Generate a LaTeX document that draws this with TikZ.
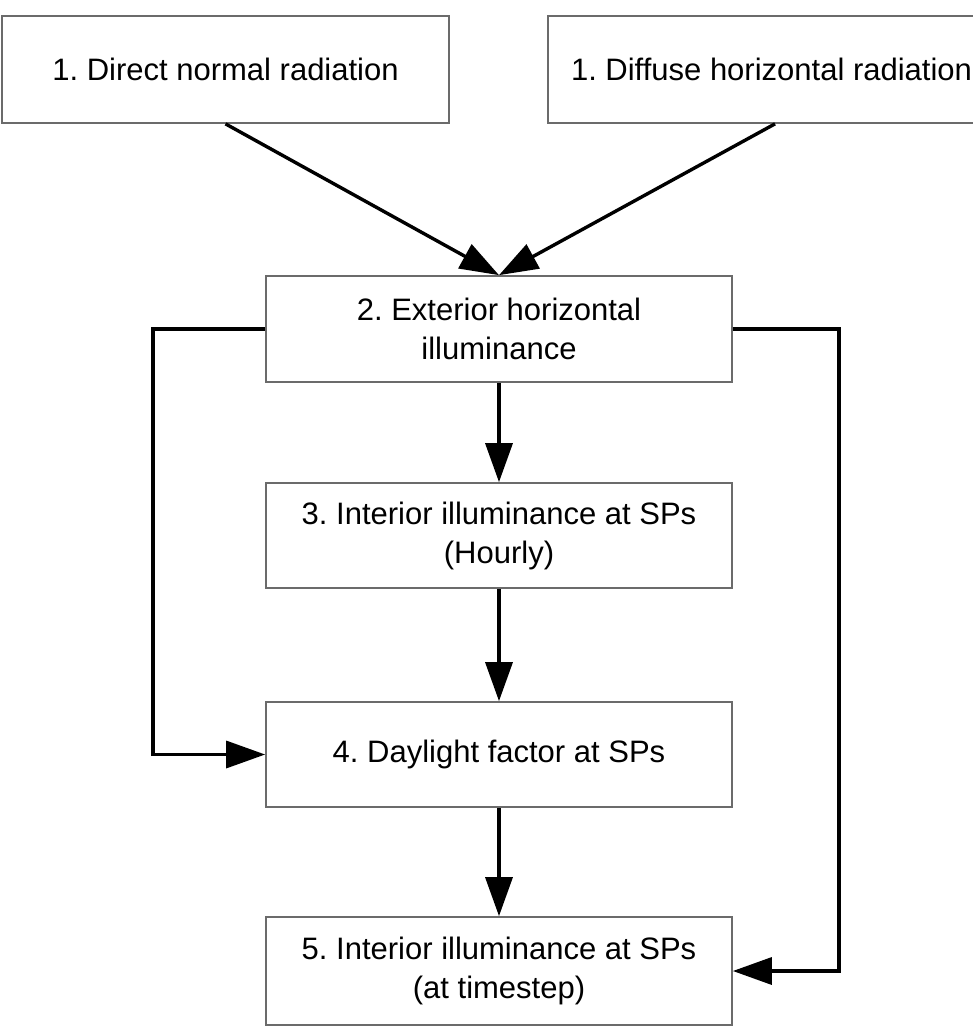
\documentclass[tikz,border=0pt]{standalone}
\usepackage{fontspec}
\setmainfont{Liberation Sans}
\usetikzlibrary{arrows.meta}
\frenchspacing
\begin{document}
\begin{tikzpicture}[x=1pt,y=-1pt,
  box/.style={draw=black!58,line width=1.7pt,fill=white,inner sep=0pt,align=center,
    minimum width=466pt,minimum height=106pt,
    font=\fontsize{31}{39}\selectfont},
  conn/.style={line width=3.4pt,-{Triangle[length=39pt,width=27pt]}}]
\useasboundingbox (0,0) rectangle (973,1028);
\node[box,minimum width=447pt,minimum height=107pt] (A) at (225.5,69.5) {1. Direct normal radiation};
\node[box,minimum width=447pt,minimum height=107pt] (B) at (771.5,69.5) {1. Diffuse horizontal radiation};
\node[box] (n2) at (499,329) {2. Exterior horizontal\\illuminance};
\node[box,minimum height=105pt] (n3) at (499,535.5) {3. Interior illuminance at SPs\\(Hourly)};
\node[box,minimum height=105pt] (n4) at (499,754.5) {4. Daylight factor at SPs};
\node[box,minimum height=108pt] (n5) at (499,971) {5. Interior illuminance at SPs\\(at timestep)};
\draw[conn] (A.south) -- (n2.north);
\draw[conn] ([xshift=3.5pt]B.south) -- (n2.north);
\draw[conn] (n2) -- (n3);
\draw[conn] (n3) -- (n4);
\draw[conn] (n4) -- (n5);
\draw[conn] (n2.west) -- ++(-112,0) |- (n4.west);
\draw[conn] (n2.east) -- ++(106,0) |- (n5.east);
\end{tikzpicture}
\end{document}
